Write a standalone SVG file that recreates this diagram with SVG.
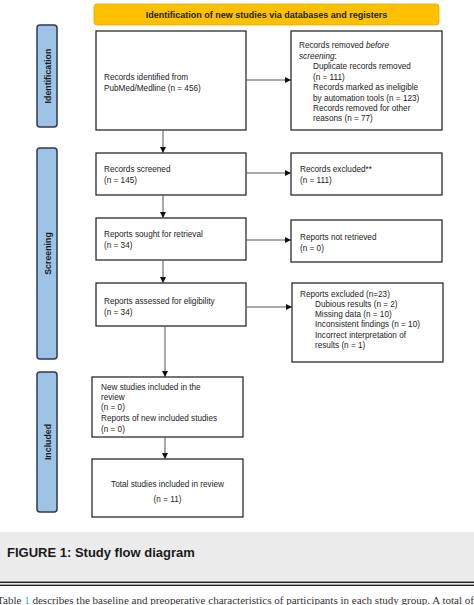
<svg xmlns="http://www.w3.org/2000/svg" width="474" height="605" viewBox="0 0 474 605">
<defs>
<style>
.box{fill:#fff;stroke:#1a1a1a;stroke-width:1.2}
.side{fill:#9dc3e6;stroke:#2b3a4e;stroke-width:1.5}
.t{font-family:"Liberation Sans",Arial,sans-serif;font-size:8.2px;fill:#222}
.sl{font-family:"Liberation Sans",Arial,sans-serif;font-size:8.8px;font-weight:bold;fill:#1a1a1a}
.c{stroke:#555;stroke-width:1;fill:none}
</style>
<marker id="ah" viewBox="0 0 10 10" refX="10" refY="5" markerWidth="6" markerHeight="6" markerUnits="userSpaceOnUse" orient="auto">
<path d="M0,0 L10,5 L0,10 z" fill="#111"/>
</marker>
</defs>
<rect width="474" height="605" fill="#fff"/>

<g id="banner">
<rect x="94" y="4" width="345" height="21" rx="3" fill="#ffc000" stroke="#e0a800" stroke-width="0.8"/>
<text x="266.5" y="18" text-anchor="middle" style="font-family:'Liberation Sans',Arial,sans-serif;font-size:9px;font-weight:bold;fill:#222">Identification of new studies via databases and registers</text>
</g>

<g id="side-identification">
<rect class="side" x="37" y="25" width="20" height="102" rx="3"/>
<text class="sl" transform="translate(50.5,76) rotate(-90)" text-anchor="middle">Identification</text>
</g>
<g id="side-screening">
<rect class="side" x="37" y="148" width="20" height="211" rx="3"/>
<text class="sl" transform="translate(50.5,253.5) rotate(-90)" text-anchor="middle">Screening</text>
</g>
<g id="side-included">
<rect class="side" x="37" y="372" width="20" height="140" rx="3"/>
<text class="sl" transform="translate(50.5,442) rotate(-90)" text-anchor="middle">Included</text>
</g>

<g id="identified">
<rect class="box" x="96" y="31" width="150" height="99"/>
<text class="t" x="104" y="80">Records identified from</text>
<text class="t" x="104" y="91">PubMed/Medline (n = 456)</text>
</g>
<g id="removed">
<rect class="box" x="291" y="31" width="151" height="99"/>
<text class="t" x="299" y="48">Records removed <tspan font-style="italic">before</tspan></text>
<text class="t" x="299" y="59"><tspan font-style="italic">screening</tspan>:</text>
<text class="t" x="313" y="69">Duplicate records removed</text>
<text class="t" x="313" y="80">(n = 111)</text>
<text class="t" x="313" y="90">Records marked as ineligible</text>
<text class="t" x="313" y="101">by automation tools (n = 123)</text>
<text class="t" x="313" y="111">Records removed for other</text>
<text class="t" x="313" y="121">reasons (n = 77)</text>
</g>

<g id="screened">
<rect class="box" x="96" y="153" width="150" height="42"/>
<text class="t" x="104" y="172">Records screened</text>
<text class="t" x="104" y="183">(n = 145)</text>
</g>
<g id="excluded">
<rect class="box" x="291" y="153" width="151" height="42"/>
<text class="t" x="300" y="172">Records excluded**</text>
<text class="t" x="300" y="183">(n = 111)</text>
</g>

<g id="sought">
<rect class="box" x="96" y="218" width="150" height="42"/>
<text class="t" x="104" y="237">Reports sought for retrieval</text>
<text class="t" x="104" y="248">(n = 34)</text>
</g>
<g id="not-retrieved">
<rect class="box" x="291" y="220" width="151" height="42"/>
<text class="t" x="300" y="240">Reports not retrieved</text>
<text class="t" x="300" y="251">(n = 0)</text>
</g>

<g id="assessed">
<rect class="box" x="96" y="283" width="150" height="43"/>
<text class="t" x="104" y="304">Reports assessed for eligibility</text>
<text class="t" x="104" y="315">(n = 34)</text>
</g>
<g id="reports-excluded">
<rect class="box" x="292" y="283" width="151" height="79"/>
<text class="t" x="300" y="297">Reports excluded (n=23)</text>
<text class="t" x="315" y="307">Dubious results (n = 2)</text>
<text class="t" x="315" y="317">Missing data (n = 10)</text>
<text class="t" x="315" y="327">Inconsistent findings (n = 10)</text>
<text class="t" x="315" y="338">Incorrect interpretation of</text>
<text class="t" x="315" y="348">results (n = 1)</text>
</g>

<g id="new-studies">
<rect class="box" x="92" y="377" width="151" height="60"/>
<text class="t" x="101" y="390">New studies included in the</text>
<text class="t" x="101" y="400">review</text>
<text class="t" x="101" y="410">(n = 0)</text>
<text class="t" x="101" y="421">Reports of new included studies</text>
<text class="t" x="101" y="432">(n = 0)</text>
</g>
<g id="total">
<rect class="box" x="92" y="459" width="151" height="58"/>
<text class="t" x="167.5" y="487" text-anchor="middle">Total studies included in review</text>
<text class="t" x="167.5" y="502" text-anchor="middle">(n = 11)</text>
</g>

<g id="connectors">
<line class="c" x1="246" y1="80" x2="291" y2="80" marker-end="url(#ah)"/>
<line class="c" x1="163" y1="130" x2="163" y2="153" marker-end="url(#ah)"/>
<line class="c" x1="246" y1="173" x2="291" y2="173" marker-end="url(#ah)"/>
<line class="c" x1="163" y1="195" x2="163" y2="218" marker-end="url(#ah)"/>
<line class="c" x1="246" y1="240" x2="291" y2="240" marker-end="url(#ah)"/>
<line class="c" x1="163" y1="260" x2="163" y2="283" marker-end="url(#ah)"/>
<line class="c" x1="247" y1="307" x2="292" y2="307" marker-end="url(#ah)"/>
<line class="c" x1="165" y1="326" x2="165" y2="377" marker-end="url(#ah)"/>
<line class="c" x1="165" y1="437" x2="165" y2="459" marker-end="url(#ah)"/>
</g>

<g id="caption">
<rect x="0" y="532" width="474" height="49" fill="#ececec"/>
<text x="7" y="557" style="font-family:'Liberation Sans',Arial,sans-serif;font-size:13px;font-weight:bold;fill:#1a1a1a">FIGURE 1: Study flow diagram</text>
<rect x="0" y="581.5" width="474" height="1.6" fill="#222"/>
<rect x="0" y="584.6" width="474" height="1.4" fill="#222"/>
<text x="-3" y="604" textLength="477" lengthAdjust="spacingAndGlyphs" style="font-family:'Liberation Serif','Times New Roman',serif;font-size:10.5px;fill:#333">Table <tspan fill="#2ab0c8">1</tspan> describes the baseline and preoperative characteristics of participants in each study group. A total of</text>
</g>
</svg>
